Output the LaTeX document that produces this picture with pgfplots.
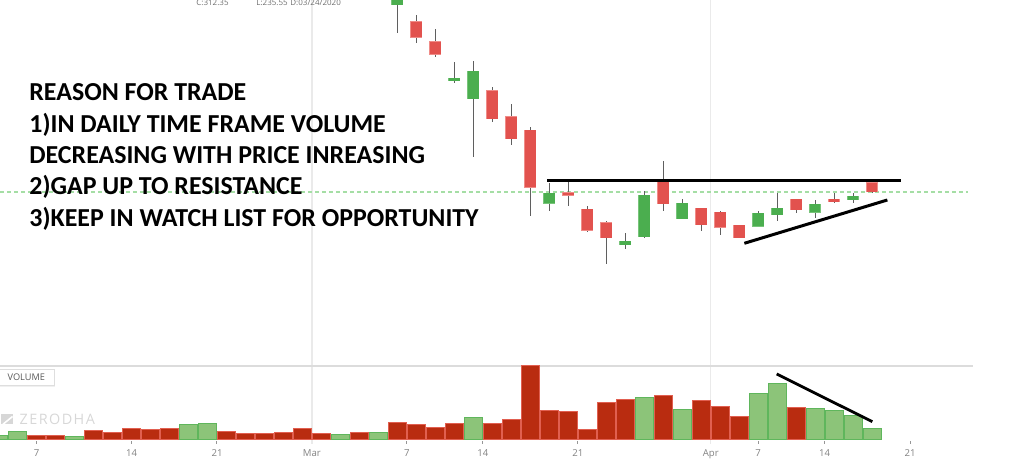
\documentclass[border=0pt]{standalone}
\usepackage{fontspec}
\setmainfont{Open Sans}
\newfontfamily\carlito{Carlito}
\usepackage{pgfplots}
\pgfplotsset{compat=1.18}
\usepackage{pgfplotstable}

\definecolor{cgreen}{RGB}{75,174,79}
\definecolor{cgreenb}{RGB}{120,196,122}
\definecolor{cred}{RGB}{226,82,78}
\definecolor{credb}{RGB}{240,140,136}
\definecolor{wick}{RGB}{95,95,95}
\definecolor{vred}{RGB}{185,44,16}
\definecolor{vredb}{RGB}{225,95,80}
\definecolor{vgreen}{RGB}{140,196,121}
\definecolor{vgreenb}{RGB}{95,182,92}
\definecolor{gridgray}{RGB}{234,234,234}
\definecolor{paneline}{RGB}{220,220,220}
\definecolor{dashgreen}{RGB}{165,222,165}
\definecolor{ticklbl}{RGB}{130,130,130}
\definecolor{tickmk}{RGB}{150,150,150}
\definecolor{wmgray}{RGB}{215,215,215}
\definecolor{boxborder}{RGB}{222,222,222}
\definecolor{hdrgray}{RGB}{110,110,110}

% candles: x = trading-day index, o h l c = price
\pgfplotstableread{
x o h l c
20 1008.6 1098.2 924.0 1053.4
23 782.4 839.1 776.4 790.4
24 728.6 841.2 555.3 810.5
28 416.0 475.8 393.9 445.9
32 292.3 326.4 280.4 303.4
33 315.3 453.7 313.3 439.9
35 370.0 429.8 370.0 416.0
39 347.3 393.9 347.3 387.1
40 382.0 445.9 363.2 402.0
42 389.1 425.9 372.1 413.9
44 425.9 445.9 416.0 437.9
}\greencandles

\pgfplotstableread{
x o h l c
21 958.7 978.7 894.1 912.0
22 898.9 936.0 854.1 861.3
25 752.5 764.4 659.9 667.9
26 674.8 712.8 589.3 609.1
27 635.1 644.9 378.1 463.8
29 447.7 480.6 408.9 439.9
30 399.0 408.0 330.3 335.4
31 358.1 363.2 235.6 312.4
34 480.6 542.4 393.9 413.9
36 401.1 401.1 332.4 351.2
37 389.1 393.0 322.2 344.3
38 350.3 350.3 312.4 312.4
41 428.0 428.0 386.1 396.0
43 428.0 447.7 416.0 419.9
45 477.6 477.6 447.7 449.8
}\redcandles

\pgfplotstableread{
x v
1 4.0
2 4.0
4 8.6
5 6.6
6 11.0
7 9.3
8 11.0
11 7.3
12 5.3
13 5.3
14 6.6
15 10.3
16 5.3
18 6.6
20 17.0
21 14.3
22 12.0
23 16.0
25 16.0
26 19.3
27 74.0
28 29.0
29 27.3
30 9.6
31 37.0
32 39.6
34 43.6
36 38.6
37 33.0
38 22.6
41 32.0
}\redvol

\pgfplotstableread{
x v
-1 4.0
0 7.3
3 3.0
9 14.3
10 15.3
17 4.6
19 6.6
24 21.3
33 42.0
35 29.3
39 45.3
40 55.3
42 30.6
43 28.3
44 23.3
45 10.3
}\greenvol

\begin{document}
\begin{tikzpicture}
\useasboundingbox (0,0) rectangle (512pt,234.5pt);

% ---------------- price pane ----------------
\begin{axis}[
  at={(0pt,51.5pt)}, anchor=south west,
  scale only axis, width=512pt, height=183pt,
  xmin=-0.9268, xmax=52.9963, ymin=-70.1, ymax=1023.5,
  axis line style={draw=none},
  xtick={15.5,36.5}, xticklabels={}, ytick=\empty,
  major tick length=0pt,
  xmajorgrids, major grid style={color=gridgray, line width=0.6pt},
]
% dashed last-price line
\addplot[dashgreen, line width=0.6pt, dash pattern=on 2pt off 1.5pt, forget plot]
  coordinates {(-0.93,449.8) (50.05,449.8)};
% wicks
\addplot[forget plot, draw=none, mark=none,
  error bars/.cd, y dir=both, y explicit, error mark=none,
  error bar style={draw=wick, line width=0.5pt}]
  table[x=x, y expr={(\thisrow{h}+\thisrow{l})/2}, y error expr={(\thisrow{h}-\thisrow{l})/2}] {\greencandles};
\addplot[forget plot, draw=none, mark=none,
  error bars/.cd, y dir=both, y explicit, error mark=none,
  error bar style={draw=wick, line width=0.5pt}]
  table[x=x, y expr={(\thisrow{h}+\thisrow{l})/2}, y error expr={(\thisrow{h}-\thisrow{l})/2}] {\redcandles};
% bodies: border then fill
\addplot[forget plot, draw=none, mark=none,
  error bars/.cd, y dir=both, y explicit, error mark=none,
  error bar style={draw=cgreenb, line width=6pt}]
  table[x=x, y expr={(\thisrow{o}+\thisrow{c})/2}, y error expr={abs(\thisrow{o}-\thisrow{c})/2+0.75}] {\greencandles};
\addplot[forget plot, draw=none, mark=none,
  error bars/.cd, y dir=both, y explicit, error mark=none,
  error bar style={draw=cgreen, line width=5.3pt}]
  table[x=x, y expr={(\thisrow{o}+\thisrow{c})/2}, y error expr={max(abs(\thisrow{o}-\thisrow{c})/2-0.5,0.5)}] {\greencandles};
\addplot[forget plot, draw=none, mark=none,
  error bars/.cd, y dir=both, y explicit, error mark=none,
  error bar style={draw=credb, line width=6pt}]
  table[x=x, y expr={(\thisrow{o}+\thisrow{c})/2}, y error expr={abs(\thisrow{o}-\thisrow{c})/2+0.75}] {\redcandles};
\addplot[forget plot, draw=none, mark=none,
  error bars/.cd, y dir=both, y explicit, error mark=none,
  error bar style={draw=cred, line width=5.3pt}]
  table[x=x, y expr={(\thisrow{o}+\thisrow{c})/2}, y error expr={max(abs(\thisrow{o}-\thisrow{c})/2-0.5,0.5)}] {\redcandles};
% annotation lines
\addplot[black, line width=1.5pt, forget plot] coordinates {(27.89,482.7) (46.52,482.7)};
\addplot[black, line width=1.5pt, forget plot] coordinates {(38.27,296.5) (45.80,425.9)};
\end{axis}

% ---------------- volume pane ----------------
\begin{axis}[
  at={(0pt,12.5pt)}, anchor=south west,
  scale only axis, width=512pt, height=39.35pt,
  xmin=-0.9268, xmax=52.9963, ymin=-4.7, ymax=74,
  clip=false,
  axis line style={draw=none},
  ytick=\empty,
  xtick={1,6,10.5,15.5,20.5,24.5,29.5,36.5,39,42.5,47},
  xticklabels={7,14,21,Mar,7,14,21,Apr,7,14,21},
  xtick pos=bottom, tick align=inside, major tick length=1.5pt,
  tick style={draw=tickmk, line width=0.5pt},
  xticklabel style={font=\fontsize{4.8pt}{5pt}\selectfont, text=ticklbl, anchor=base, inner sep=0pt, yshift=-6.35pt},
  extra x ticks={15.5,36.5}, extra x tick labels={},
  extra x tick style={grid=major, major grid style={color=gridgray, line width=0.6pt}, major tick length=0pt},
]
\addplot[paneline, line width=0.6pt, forget plot] coordinates {(-0.93,73.3) (50.31,73.3)};
\addplot[ybar, bar width=9pt, bar shift=0pt, fill=vred, draw=vredb, line width=0.5pt, forget plot]
  table[x=x, y=v] {\redvol};
\addplot[ybar, bar width=9pt, bar shift=0pt, fill=vgreen, draw=vgreenb, line width=0.5pt, forget plot]
  table[x=x, y=v] {\greenvol};
\addplot[black, line width=1.4pt, forget plot] coordinates {(39.97,65.3) (45.01,17.6)};
\end{axis}

% ---------------- texts (pixel coordinates from top-left) ----------------
\begin{scope}[x=0.5pt, y=-0.5pt, shift={(0pt,234.5pt)}]
  \tikzset{tl/.style={anchor=base west, inner sep=0pt, text=black,
    font=\carlito\bfseries\fontsize{12.95pt}{15pt}\selectfont}}
  \node[tl] at (29,101) {REASON FOR TRADE};
  \node[tl] at (29,132.3) {1)IN DAILY TIME FRAME VOLUME};
  \node[tl] at (29,163.5) {DECREASING WITH PRICE INREASING};
  \node[tl] at (29,195) {2)GAP UP TO RESISTANCE};
  \node[tl] at (29,226.2) {3)KEEP IN WATCH LIST FOR OPPORTUNITY};

  \tikzset{hd/.style={anchor=base west, inner sep=0pt, text=hdrgray,
    font=\fontsize{4pt}{5pt}\selectfont}}
  \node[hd] at (196,5.3) {C:312.35};
  \node[hd] at (256,5.3) {L:235.55};
  \node[hd] at (290,5.3) {D:03/24/2020};

  % VOLUME label box
  \fill[black!6] (-2,370.3) rectangle (55.3,387);
  \draw[boxborder, fill=white, line width=0.5pt] (-2,369.3) rectangle (54.3,386);
  \node[inner sep=0pt, text=black!65, font=\fontsize{4.6pt}{5pt}\selectfont] at (26.3,377.7) {VOLUME};

  % watermark
  \fill[wmgray] (1,414.5) rectangle (12.5,424.3);
  \draw[white, line width=0.8pt] (3,424.3) -- (12.5,416.5);
  \node[anchor=base west, inner sep=0pt, text=wmgray,
    font=\fontsize{7.2pt}{8pt}\selectfont\addfontfeature{LetterSpace=10}] at (19.3,424.3) {ZERODHA};
\end{scope}
\end{tikzpicture}
\end{document}
